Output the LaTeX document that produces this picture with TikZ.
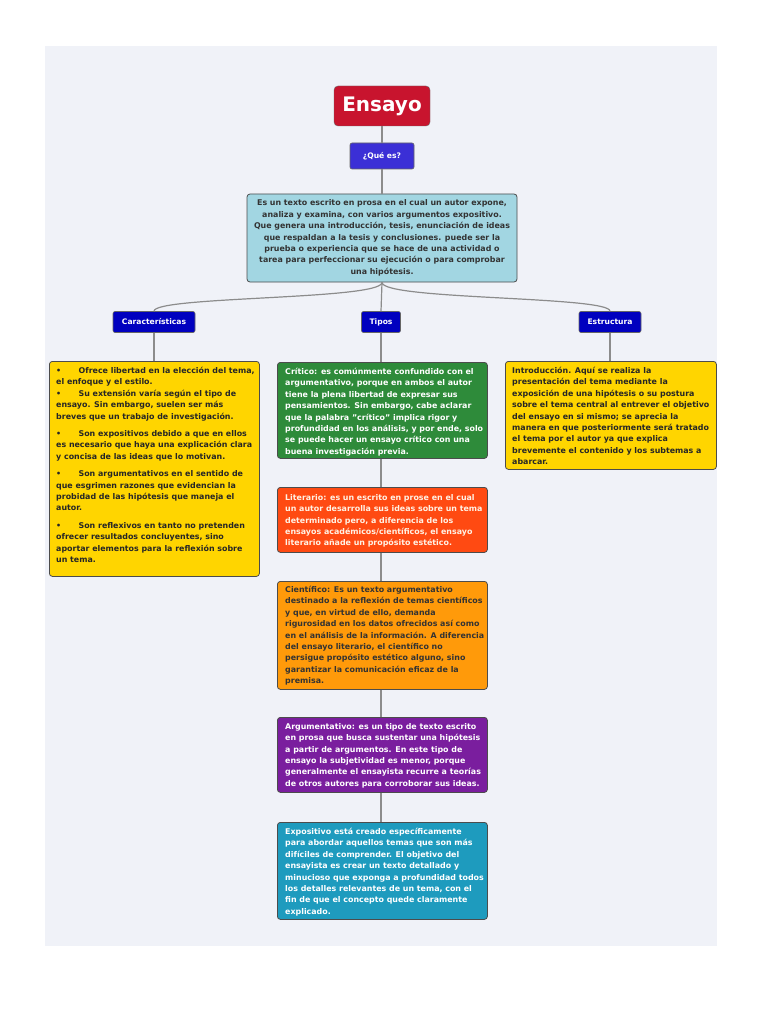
\documentclass[tikz,border=0pt]{standalone}
\usepackage{fontspec}
\setmainfont{DejaVu Sans}
\begin{document}
\begin{tikzpicture}[x=1pt,y=-1pt,
 box/.style={draw=black!70,line width=0.8pt,rounded corners=3pt,inner sep=0pt,anchor=north west},
 txt/.style={anchor=north west,font=\bfseries\fontsize{7.9}{11.4}\selectfont,align=left,inner sep=0pt},
 small/.style={draw=black!60,line width=0.6pt,rounded corners=2pt,fill=blue!75!black,text=white,font=\bfseries\fontsize{7.6}{8}\selectfont,inner sep=0pt},
 con/.style={draw=black!45,line width=1.2pt}]
\definecolor{bg}{HTML}{F0F2F8}
\definecolor{ylw}{HTML}{FFD500}
\definecolor{grn}{HTML}{2E8B3A}
\definecolor{rdo}{HTML}{FF4A12}
\definecolor{org}{HTML}{FF9A0A}
\definecolor{prp}{HTML}{7A1E9E}
\definecolor{tea}{HTML}{1E9BBE}
\definecolor{lbl}{HTML}{A2D6E2}
\definecolor{ttl}{HTML}{C8142E}
\definecolor{qb}{HTML}{3B2FD6}
\useasboundingbox (0,0) rectangle (768,1024);
\fill[white] (0,0) rectangle (768,1024);
\fill[bg] (45,46) rectangle (717,946);
% nodes
\node[draw=black!60,fill=ttl,rounded corners=4pt,text=white,font=\bfseries\fontsize{20}{22}\selectfont,minimum width=96pt,minimum height=40pt,inner sep=0pt] (ens) at (382,106) {Ensayo};
\node[small,fill=qb,minimum width=64pt,minimum height=26pt] (que) at (382,156) {¿Qué es?};
\node[box,fill=lbl,minimum width=270pt,minimum height=88pt,anchor=center] (desc) at (382,238) {};
\node[txt,anchor=center,align=center,text=black!80] at (382,238) {Es un texto escrito en prosa en el cual un autor expone,\\analiza y examina, con varios argumentos expositivo.\\Que genera una introducción, tesis, enunciación de ideas\\que respaldan a la tesis y conclusiones. puede ser la\\prueba o experiencia que se hace de una actividad o\\tarea para perfeccionar su ejecución o para comprobar\\una hipótesis.};
\node[small,minimum width=82pt,minimum height=21pt] (car) at (154,322) {Características};
\node[small,minimum width=39pt,minimum height=21pt] (tip) at (381,322) {Tipos};
\node[small,minimum width=62pt,minimum height=21pt] (est) at (610,322) {Estructura};
% content boxes
\node[box,fill=ylw,minimum width=210pt,minimum height=215pt] (cb) at (49,361) {};
\node[txt,text=black!85] at (56,367) {\textbullet\hspace{2.2em}Ofrece libertad en la elección del tema,\\el enfoque y el estilo.\\\textbullet\hspace{2.2em}Su extensión varía según el tipo de\\ensayo. Sin embargo, suelen ser más\\breves que un trabajo de investigación.\\[6pt]\textbullet\hspace{2.2em}Son expositivos debido a que en ellos\\es necesario que haya una explicación clara\\y concisa de las ideas que lo motivan.\\[6pt]\textbullet\hspace{2.2em}Son argumentativos en el sentido de\\que esgrimen razones que evidencian la\\probidad de las hipótesis que maneja el\\autor.\\[6pt]\textbullet\hspace{2.2em}Son reflexivos en tanto no pretenden\\ofrecer resultados concluyentes, sino\\aportar elementos para la reflexión sobre\\un tema.};
\node[box,fill=grn,minimum width=210pt,minimum height=96pt] (t1) at (277,362) {};
\node[txt,text=white] at (285,368) {Crítico: es comúnmente confundido con el\\argumentativo, porque en ambos el autor\\tiene la plena libertad de expresar sus\\pensamientos. Sin embargo, cabe aclarar\\que la palabra "crítico" implica rigor y\\profundidad en los análisis, y por ende, solo\\se puede hacer un ensayo crítico con una\\buena investigación previa.};
\node[box,fill=rdo,minimum width=210pt,minimum height=65pt] (t2) at (277,487) {};
\node[txt,text=white!90!orange] at (285,494) {Literario: es un escrito en prose en el cual\\un autor desarrolla sus ideas sobre un tema\\determinado pero, a diferencia de los\\ensayos académicos/científicos, el ensayo\\literario añade un propósito estético.};
\node[box,fill=org,minimum width=210pt,minimum height=108pt] (t3) at (277,581) {};
\node[txt,text=black!80] at (285,586) {Científico: Es un texto argumentativo\\destinado a la reflexión de temas científicos\\y que, en virtud de ello, demanda\\rigurosidad en los datos ofrecidos así como\\en el análisis de la información. A diferencia\\del ensayo literario, el científico no\\persigue propósito estético alguno, sino\\garantizar la comunicación eficaz de la\\premisa.};
\node[box,fill=prp,minimum width=210pt,minimum height=75pt] (t4) at (277,717) {};
\node[txt,text=white] at (285,723) {Argumentativo: es un tipo de texto escrito\\en prosa que busca sustentar una hipótesis\\a partir de argumentos. En este tipo de\\ensayo la subjetividad es menor, porque\\generalmente el ensayista recurre a teorías\\de otros autores para corroborar sus ideas.};
\node[box,fill=tea,minimum width=210pt,minimum height=97pt] (t5) at (277,822) {};
\node[txt,text=white] at (285,828) {Expositivo está creado específicamente\\para abordar aquellos temas que son más\\difíciles de comprender. El objetivo del\\ensayista es crear un texto detallado y\\minucioso que exponga a profundidad todos\\los detalles relevantes de un tema, con el\\fin de que el concepto quede claramente\\explicado.};
\node[box,fill=ylw,minimum width=211pt,minimum height=108pt] (eb) at (505,361) {};
\node[txt,text=black!85] at (512,367) {Introducción. Aquí se realiza la\\presentación del tema mediante la\\exposición de una hipótesis o su postura\\sobre el tema central al entrever el objetivo\\del ensayo en si mismo; se aprecia la\\manera en que posteriormente será tratado\\el tema por el autor ya que explica\\brevemente el contenido y los subtemas a\\abarcar.};
% connectors
\draw[con] (ens.south) -- (que.north);
\draw[con] (que.south) -- (desc.north);
\draw[con] (desc.south) .. controls (382,300) and (154,296) .. (car.north);
\draw[con] (desc.south) -- (tip.north);
\draw[con] (desc.south) .. controls (382,300) and (610,296) .. (est.north);
\draw[con] (car.south) -- (car.south |- cb.north);
\draw[con] (tip.south) -- (tip.south |- t1.north);
\draw[con] (est.south) -- (est.south |- eb.north);
\draw[con] (t1.south -| tip.south) -- (t2.north -| tip.south);
\draw[con] (t2.south -| tip.south) -- (t3.north -| tip.south);
\draw[con] (t3.south -| tip.south) -- (t4.north -| tip.south);
\draw[con] (t4.south -| tip.south) -- (t5.north -| tip.south);
\end{tikzpicture}
\end{document}
